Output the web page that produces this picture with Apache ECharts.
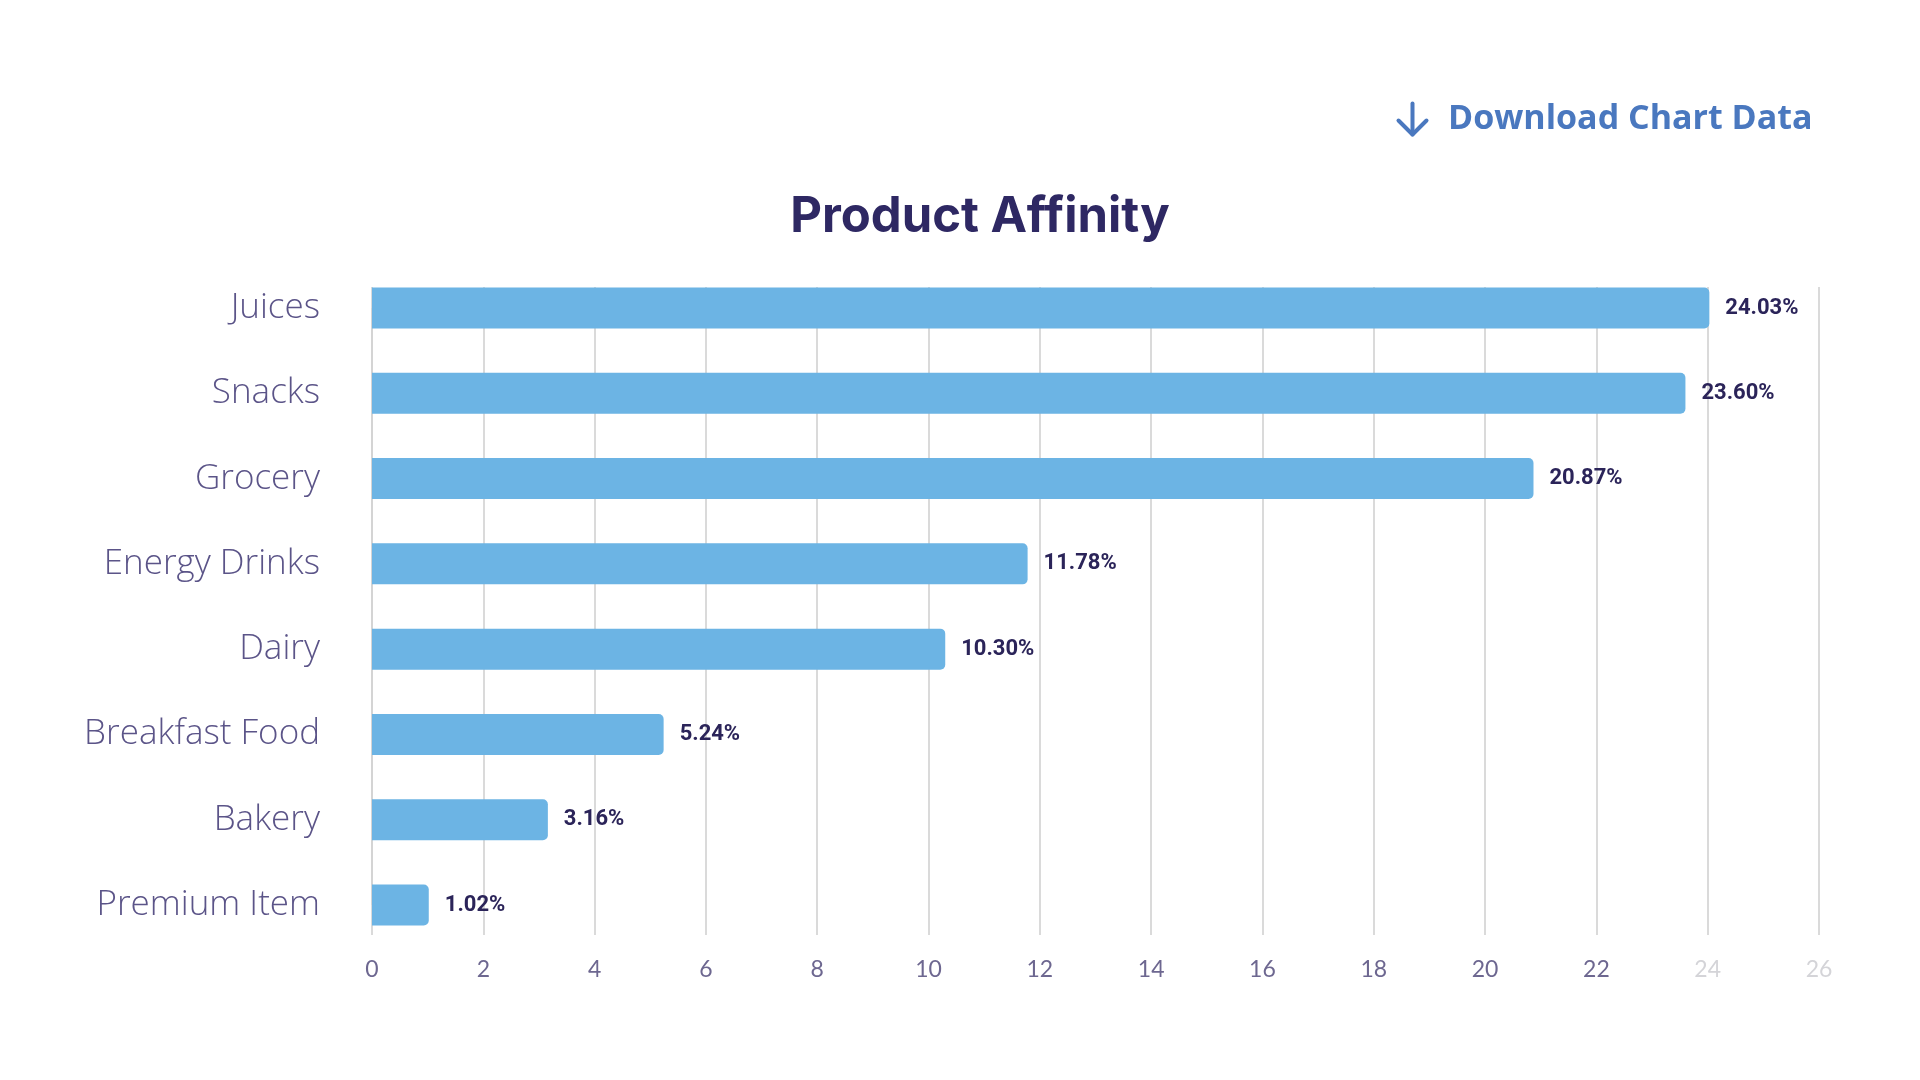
<!DOCTYPE html>
<html>
<head>
<meta charset="utf-8">
<title>Product Affinity</title>
<script src="https://cdn.jsdelivr.net/npm/echarts@6/dist/echarts.min.js"></script>
<style>
html, body { margin: 0; padding: 0; background: #fff; }
#myChart { width: 1920px; height: 1080px; }
</style>
</head>
<body>
<div id="myChart"></div>
<script>
// data
const categories = ['Juices', 'Snacks', 'Grocery', 'Energy Drinks', 'Dairy', 'Breakfast Food', 'Bakery', 'Premium Item']
const values = [24.03, 23.60, 20.87, 11.78, 10.30, 5.24, 3.16, 1.02]
const axisMin = 0
const axisMax = 26
const axisStep = 2
const fadedTicks = [24, 26]

let myChart = echarts.init(document.getElementById('myChart'))

let option = {
	animation: false,
	backgroundColor: '#ffffff',
	title: {
		text: 'Product Affinity',
		left: 975,
		top: 188,
		textAlign: 'center',
		textStyle: {
			fontFamily: 'Inter',
			fontWeight: 'bold',
			fontSize: 49,
			color: '#2e2863'
		}
	},
	graphic: [
		{
			type: 'group',
			left: 1396,
			top: 101,
			children: [
				{ type: 'line', shape: { x1: 15, y1: 0, x2: 15, y2: 31 }, style: { stroke: '#4a78bf', lineWidth: 4, lineCap: 'round' } },
				{ type: 'polyline', shape: { points: [[1, 17], [15, 31], [29, 17]] }, style: { stroke: '#4a78bf', fill: null, lineWidth: 4, lineCap: 'round', lineJoin: 'round' } }
			]
		},
		{
			type: 'text',
			left: 1448,
			top: 102,
			style: {
				text: 'Download Chart Data',
				fontFamily: 'Open Sans',
				fontWeight: 'bold',
				fontSize: 34,
				fill: '#4a78bf'
			}
		}
	],
	grid: {
		left: 372,
		right: 101,
		top: 308,
		bottom: 175
	},
	xAxis: [
		{
			type: 'value',
			position: 'bottom',
			min: axisMin,
			max: axisMax,
			interval: axisStep,
			axisLine: { show: false },
			axisTick: {
				show: true,
				length: 30,
				lineStyle: { color: '#dadada', width: 2 }
			},
			splitLine: {
				show: true,
				lineStyle: { color: '#dadada', width: 2 }
			},
			axisLabel: {
				margin: 53,
				fontFamily: 'Lato',
				fontSize: 23,
				color: function (val) {
					return fadedTicks.indexOf(Number(val)) >= 0 ? '#d4d4d8' : '#6d6790'
				}
			}
		},
		{
			// only used to run the grid lines up past the top bar
			type: 'value',
			position: 'top',
			min: axisMin,
			max: axisMax,
			interval: axisStep,
			axisLine: { show: false },
			axisTick: {
				show: true,
				length: 21,
				lineStyle: { color: '#dadada', width: 2 }
			},
			splitLine: { show: false },
			axisLabel: { show: false }
		}
	],
	yAxis: {
		type: 'category',
		data: categories,
		inverse: true,
		boundaryGap: false,
		axisLine: {
			show: true,
			lineStyle: { color: '#d4d4d4', width: 2 }
		},
		axisTick: { show: false },
		splitLine: { show: false },
		axisLabel: {
			margin: 52,
			fontFamily: 'Open Sans',
			fontWeight: 300,
			fontSize: 35,
			color: '#5b5488'
		}
	},
	series: [
		{
			type: 'bar',
			data: values,
			xAxisIndex: 0,
			barWidth: 41,
			clip: false,
			itemStyle: {
				color: '#6cb4e4',
				borderRadius: [0, 5, 5, 0]
			},
			label: {
				show: true,
				position: 'right',
				distance: 16,
				fontFamily: 'Roboto',
				fontWeight: 'bold',
				fontSize: 22,
				color: '#2b2459',
				formatter: function (p) {
					return p.value.toFixed(2) + '%'
				}
			}
		}
	]
}

myChart.setOption(option)
</script>
</body>
</html>
